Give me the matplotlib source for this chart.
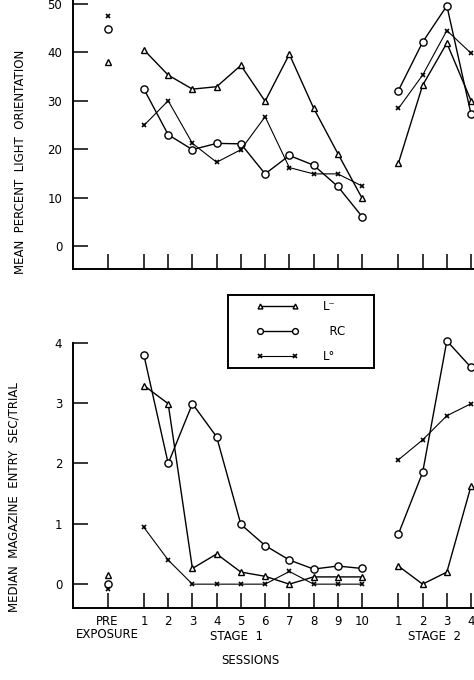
import numpy as np
import matplotlib
matplotlib.use('Agg')
import matplotlib.pyplot as plt
from matplotlib.lines import Line2D

# session positions: pre exposure, stage 1 (1-10), stage 2 (1-4)
pre_x = -0.5
stage1_x = np.arange(1, 11)
stage2_x = np.arange(11.5, 15.5)
stage1_labels = [str(i) for i in range(1, 11)]
stage2_labels = [str(i) for i in range(1, 5)]

# top panel: mean percent light orientation
top_pre = {'Lminus': 37.9, 'RC': 44.9, 'Lzero': 47.4}
top_s1_Lminus = [40.5, 35.3, 32.4, 32.9, 37.3, 29.9, 39.6, 28.5, 19.1, 9.9]
top_s1_RC = [32.4, 23.0, 19.9, 21.2, 21.1, 14.9, 18.7, 16.7, 12.3, 6.1]
top_s1_Lzero = [24.9, 30.0, 21.2, 17.3, 19.9, 26.7, 16.2, 14.9, 14.9, 12.4]
top_s2_Lminus = [17.1, 33.2, 41.9, 30.0]
top_s2_RC = [32.1, 42.1, 49.6, 27.2]
top_s2_Lzero = [28.4, 35.3, 44.5, 39.8]

# bottom panel: median magazine entry sec/trial
bot_pre = {'Lminus': 0.15, 'RC': 0.0, 'Lzero': -0.08}
bot_s1_Lminus = [3.29, 2.99, 0.26, 0.50, 0.20, 0.13, 0.0, 0.12, 0.12, 0.12]
bot_s1_RC = [3.79, 2.0, 2.99, 2.44, 0.99, 0.64, 0.40, 0.25, 0.30, 0.26]
bot_s1_Lzero = [0.94, 0.40, 0.0, 0.0, 0.0, 0.0, 0.21, 0.0, 0.0, 0.0]
bot_s2_Lminus = [0.30, 0.0, 0.20, 1.63]
bot_s2_RC = [0.83, 1.85, 4.03, 3.59]
bot_s2_Lzero = [2.06, 2.39, 2.79, 2.99]

sty = {'Lminus': dict(marker='^', ms=4.5, mfc='white', mec='black', mew=1.0),
       'RC': dict(marker='o', ms=5.2, mfc='white', mec='black', mew=1.0),
       'Lzero': dict(marker='x', ms=3.5, mec='black', mew=1.2)}

plt.rcParams['font.family'] = 'DejaVu Sans'
plt.rcParams['font.size'] = 8.5

fig = plt.figure(figsize=(4.74, 6.8), dpi=100)
W, H = 474., 680.
ax1 = fig.add_axes([72.7/W, 1-269.3/H, 1-72.7/W, 269.3/H])
ax2 = fig.add_axes([72.7/W, 1-608.3/H, 1-72.7/W, (608.3-342.7)/H])

def draw(ax, pre, s1, s2):
    for key, v1, v2 in zip(['Lminus', 'RC', 'Lzero'], s1, s2):
        lw = 0.8 if key == 'Lzero' else 1.0
        ax.plot(stage1_x, v1, color='black', lw=lw, clip_on=False, zorder=3, **sty[key])
        ax.plot(stage2_x, v2, color='black', lw=lw, clip_on=False, zorder=3, **sty[key])
        ax.plot([pre_x], [pre[key]], color='black', ls='none', clip_on=False, zorder=3, **sty[key])

draw(ax1, top_pre, [top_s1_Lminus, top_s1_RC, top_s1_Lzero],
     [top_s2_Lminus, top_s2_RC, top_s2_Lzero])
draw(ax2, bot_pre, [bot_s1_Lminus, bot_s1_RC, bot_s1_Lzero],
     [bot_s2_Lminus, bot_s2_RC, bot_s2_Lzero])

xticks = [pre_x] + list(stage1_x) + list(stage2_x)
for ax in [ax1, ax2]:
    ax.set_xlim(-1.94, 14.62)
    ax.spines['top'].set_visible(False)
    ax.spines['right'].set_visible(False)
    ax.spines['left'].set_linewidth(1.4)
    ax.spines['bottom'].set_linewidth(1.4)
    ax.set_xticks(xticks)
    ax.tick_params(direction='in', length=11, width=1.1, pad=5)
    ax.tick_params(axis='y', pad=7.5)
    ax.patch.set_visible(False)

ax1.set_ylim(-4.8, 50.8)
ax1.set_yticks([0, 10, 20, 30, 40, 50])
ax1.set_xticklabels([])
ax1.set_ylabel('MEAN  PERCENT  LIGHT  ORIENTATION', fontsize=8.5)
ax1.yaxis.set_label_coords(-0.114, 0.40)

ax2.set_ylim(-0.40, 4.0)
ax2.set_yticks([0, 1, 2, 3, 4])
ax2.set_xticklabels(['PRE\nEXPOSURE'] + stage1_labels + stage2_labels)
for t in ax2.get_xticklabels():
    t.set_linespacing(1.0)
ax2.set_ylabel('MEDIAN  MAGAZINE  ENTRY  SEC/TRIAL', fontsize=8.5)
ax2.yaxis.set_label_coords(-0.131, 0.42)

tr = ax2.get_xaxis_transform()
ax2.text(4.8, -0.107, 'STAGE  1', transform=tr, ha='center', va='center', fontsize=8.5)
ax2.text(13.0, -0.107, 'STAGE  2', transform=tr, ha='center', va='center', fontsize=8.5)
ax2.text(5.4, -0.195, 'SESSIONS', transform=tr, ha='center', va='center', fontsize=8.5)

# legend in a framed box
axl = fig.add_axes([228/W, 1-367.7/H, (374-228)/W, (367.7-295)/H])
axl.set_xticks([])
axl.set_yticks([])
for s in axl.spines.values():
    s.set_linewidth(1.4)
handles = [Line2D([], [], color='black', lw=1.0, **dict(sty['Lminus'], ms=3.5)),
           Line2D([], [], color='black', lw=1.0, **dict(sty['RC'], ms=4.2)),
           Line2D([], [], color='black', lw=0.8, **dict(sty['Lzero'], ms=3))]
axl.legend(handles, ['L⁻', '  RC', 'L°'], loc='center', frameon=False, numpoints=2,
           handlelength=3.6, handletextpad=2.0, labelspacing=1.0, fontsize=8.5)

fig.savefig('out.png', dpi=100)
